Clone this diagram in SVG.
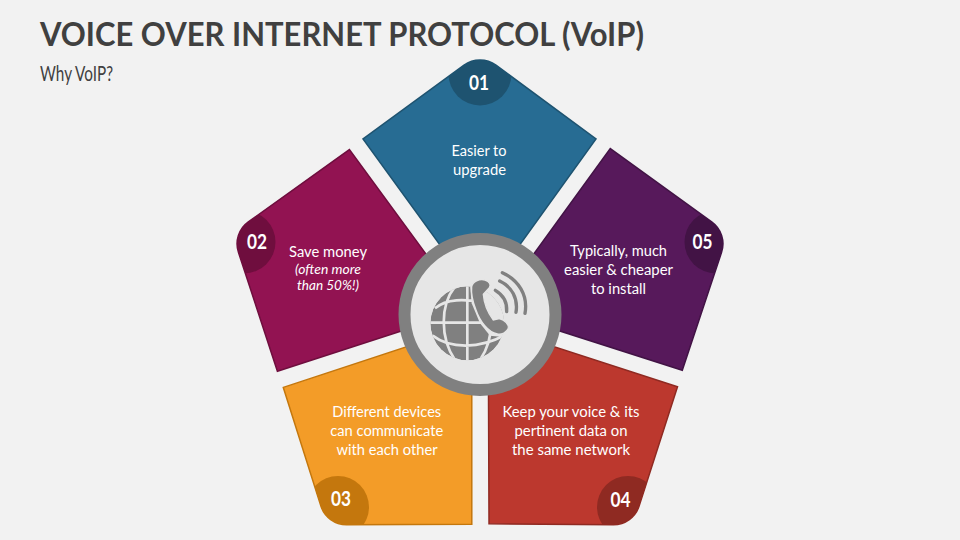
<svg xmlns="http://www.w3.org/2000/svg" width="960" height="540" viewBox="0 0 960 540">
<style>
text{font-family:"Lato","Liberation Sans",sans-serif}
.t{fill:#404040}
.l{fill:#fff;font-size:14.5px;text-anchor:middle}
.i{font-style:italic;font-size:13px}
.n{fill:#fff;font-size:20px;font-weight:700;text-anchor:middle}
.g{fill:none;stroke:#e6e6e6;stroke-width:8}
.w{fill:none;stroke:#808080;stroke-width:10;stroke-linecap:round}
</style>
<defs>
<path id="pent" d="M480,300 L363,139 L464,65.2 A27,27 0 0 1 496,65.2 L596,139 Z"/>
<clipPath id="c1"><use href="#pent"/></clipPath>
<clipPath id="c2"><use href="#pent" transform="rotate(-72 480 314)"/></clipPath>
<clipPath id="c3"><use href="#pent" transform="rotate(-144 480 314)"/></clipPath>
<clipPath id="c4"><use href="#pent" transform="rotate(144 480 314)"/></clipPath>
<clipPath id="c5"><use href="#pent" transform="rotate(72 480 314)"/></clipPath>
<clipPath id="gc"><circle cx="232" cy="295" r="111"/></clipPath>
</defs>
<rect width="960" height="540" fill="#f2f2f2"/>
<g id="title">
<text class="t" x="40" y="46" font-size="32.5" font-weight="700" textLength="604" lengthAdjust="spacingAndGlyphs">VOICE OVER INTERNET PROTOCOL (VoIP)</text>
<text class="t" x="40" y="81" font-size="21" textLength="73" lengthAdjust="spacingAndGlyphs">Why VoIP?</text>
</g>
<g id="node-01">
<use href="#pent" fill="#276c93" stroke="#1e5370" stroke-width="1.5"/>
<circle cx="480" cy="74" r="31.5" fill="#1e5370" clip-path="url(#c1)"/>
<text class="n" x="479" y="90" textLength="20" lengthAdjust="spacingAndGlyphs">01</text>
<text class="l" x="479" y="156" textLength="55" lengthAdjust="spacingAndGlyphs">Easier to</text>
<text class="l" x="479.5" y="175" textLength="53" lengthAdjust="spacingAndGlyphs">upgrade</text>
</g>
<g id="node-02">
<use href="#pent" transform="rotate(-72 480 314)" fill="#921352" stroke="#6f0e3e" stroke-width="1.5"/>
<circle cx="244" cy="242" r="31.5" fill="#6f0e3e" clip-path="url(#c2)"/>
<text class="n" x="257" y="249" textLength="20" lengthAdjust="spacingAndGlyphs">02</text>
<text class="l" x="328" y="257" textLength="78" lengthAdjust="spacingAndGlyphs">Save money</text>
<text class="l i" x="328" y="274" textLength="66" lengthAdjust="spacingAndGlyphs">(often more</text>
<text class="l i" x="328" y="290" textLength="62" lengthAdjust="spacingAndGlyphs">than 50%!)</text>
</g>
<g id="node-03">
<use href="#pent" transform="rotate(-144 480 314)" fill="#f39c28" stroke="#c4770d" stroke-width="1.5"/>
<circle cx="338" cy="507" r="31" fill="#c4770d" clip-path="url(#c3)"/>
<text class="n" x="341" y="506" textLength="20" lengthAdjust="spacingAndGlyphs">03</text>
<text class="l" x="386.7" y="417" textLength="109" lengthAdjust="spacingAndGlyphs">Different devices</text>
<text class="l" x="386.7" y="436" textLength="113" lengthAdjust="spacingAndGlyphs">can communicate</text>
<text class="l" x="387" y="455" textLength="101" lengthAdjust="spacingAndGlyphs">with each other</text>
</g>
<g id="node-04">
<use href="#pent" transform="rotate(144 480 314)" fill="#bc382e" stroke="#8f2a22" stroke-width="1.5"/>
<circle cx="628" cy="507" r="31" fill="#8f2a22" clip-path="url(#c4)"/>
<text class="n" x="620.5" y="507" textLength="20" lengthAdjust="spacingAndGlyphs">04</text>
<text class="l" x="571" y="417" textLength="137" lengthAdjust="spacingAndGlyphs">Keep your voice &amp; its</text>
<text class="l" x="571" y="436" textLength="113" lengthAdjust="spacingAndGlyphs">pertinent data on</text>
<text class="l" x="571" y="455" textLength="118" lengthAdjust="spacingAndGlyphs">the same network</text>
</g>
<g id="node-05">
<use href="#pent" transform="rotate(72 480 314)" fill="#57195b" stroke="#421345" stroke-width="1.5"/>
<circle cx="716" cy="242" r="31.5" fill="#421345" clip-path="url(#c5)"/>
<text class="n" x="702.5" y="249" textLength="20" lengthAdjust="spacingAndGlyphs">05</text>
<text class="l" x="618.5" y="256" textLength="97" lengthAdjust="spacingAndGlyphs">Typically, much</text>
<text class="l" x="618.5" y="275" textLength="109" lengthAdjust="spacingAndGlyphs">easier &amp; cheaper</text>
<text class="l" x="618.5" y="294" textLength="55" lengthAdjust="spacingAndGlyphs">to install</text>
</g>
<g id="hub">
<circle cx="480" cy="314.5" r="75.5" fill="#e6e6e6" stroke="#808080" stroke-width="12"/>
<g transform="translate(390 225) scale(.33333)">
<g clip-path="url(#gc)">
<circle cx="232" cy="295" r="111" fill="#808080"/>
<path class="g" d="M232,180V410M118,293H350M195,185C150,240 150,340 195,405M270,185C315,240 315,340 270,405M135,250C170,220 220,222 290,232M128,332C180,372 270,372 345,330"/>
<path d="M262,150H430V332L340,336L300,332L270,295L245,235L240,180Z" fill="#e6e6e6"/>
</g>
<path d="M245,185C248,170 268,160 285,165C300,170 303,180 298,188L280,208C282,235 295,265 310,285L328,281C345,285 357,298 355,310C350,322 335,330 322,327C295,322 270,290 258,255C248,230 243,205 245,185Z" fill="#808080" stroke="#e6e6e6" stroke-width="4"/>
<path class="w" d="M316,196C340,210 352,232 350,260"/>
<path class="w" d="M329,168C365,185 385,220 378,262"/>
<path class="w" d="M337,143C385,165 415,210 405,265"/>
</g>
</g>
</svg>
